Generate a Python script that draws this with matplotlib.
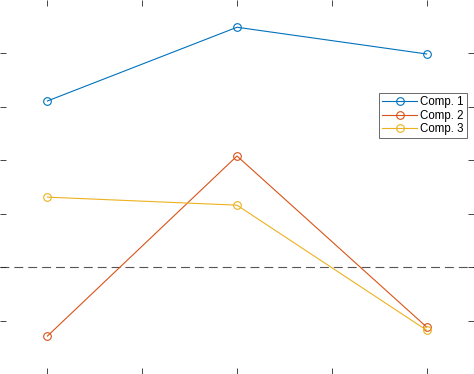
import matplotlib
matplotlib.use("Agg")
import matplotlib.pyplot as plt

plt.rcParams['font.family'] = ['Liberation Sans', 'DejaVu Sans']

x = [1, 2, 3]
comp1 = [0.311, 0.449, 0.399]
comp2 = [-0.129, 0.208, -0.112]
comp3 = [0.131, 0.116, -0.118]
labels = ['Comp. 1', 'Comp. 2', 'Comp. 3']
colors = ['#0072BD', '#D95319', '#EDB120']

W, H = 474, 374
fig = plt.figure(figsize=(W / 100, H / 100), dpi=100)
ax = fig.add_axes([0, 0, 1, 1])

for y, lab, c in zip([comp1, comp2, comp3], labels, colors):
    ax.plot(x, y, marker='o', markersize=5.5, markerfacecolor='none',
            markeredgewidth=0.8, color=c, linewidth=0.8, label=lab)

ax.axhline(0, color='#555555', linewidth=0.8, linestyle=(0, (8, 4.5)), zorder=0)

ax.set_xlim(0.75, 3.25)
ax.set_ylim(-0.2, 0.5)
ax.set_xticks([1, 1.5, 2, 2.5, 3])
ax.set_yticks([-0.1, 0, 0.1, 0.2, 0.3, 0.4])
ax.tick_params(direction='in', length=4, width=0.6, color='#262626',
               top=True, right=True, labelleft=False, labelbottom=False)
for s in ax.spines.values():
    s.set_visible(False)

leg = ax.legend(loc='upper left', bbox_to_anchor=(379 / W, 1 - 93 / H),
                fontsize=8.3, frameon=True, fancybox=False, edgecolor='#262626',
                borderpad=0.3, labelspacing=0.1, handlelength=3.0,
                handletextpad=0.3, borderaxespad=0)
leg.get_frame().set_linewidth(0.6)

fig.savefig('out.png', dpi=100)
